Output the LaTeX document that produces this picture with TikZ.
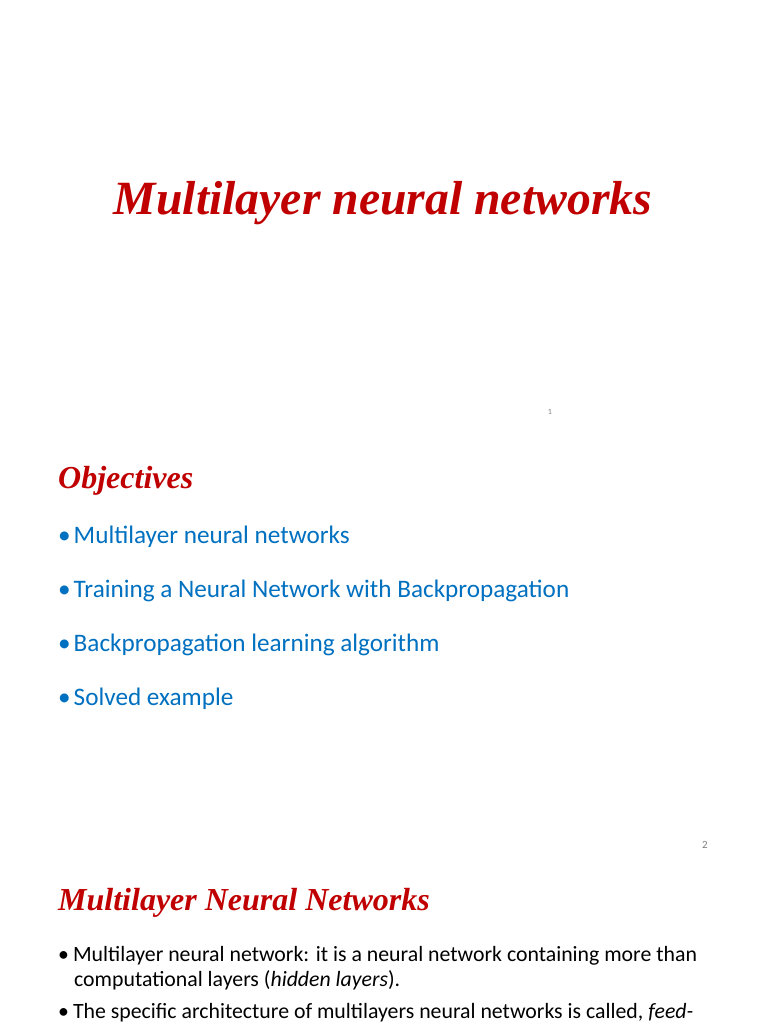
\documentclass[tikz,border=0pt]{standalone}
\usepackage{fontspec}
\setmainfont{Carlito}
\newfontfamily\tms{Liberation Serif}
\definecolor{tred}{RGB}{192,0,0}
\definecolor{tblue}{RGB}{0,112,192}
\begin{document}
\begin{tikzpicture}[x=1pt,y=1pt,
  ttl/.style={anchor=west,text=tred,font=\tms\bfseries\itshape\fontsize{32}{36}\selectfont,inner sep=0},
  bl/.style={anchor=west,text=tblue,font=\fontsize{25.2}{29}\selectfont,inner sep=0},
  bk/.style={anchor=west,text=black,font=\fontsize{21.8}{26}\selectfont,inner sep=0},
  pn/.style={text=gray,font=\fontsize{11}{13}\selectfont,inner sep=0}]
\useasboundingbox[fill=white] (0,0) rectangle (768,-1024);
\node[text=tred,font=\tms\bfseries\itshape\fontsize{47.7}{54}\selectfont,inner sep=0] (t) at (383,-203) {Multilayer neural networks};
\node[pn,font=\fontsize{8}{10}\selectfont] (p1) at (550,-412) {1};
\node[ttl] (o) at (58,-481) {Objectives};
\node[bl] (b1) at (58,-537) {•\hspace{3pt}Multilayer neural networks};
\node[bl] (b2) at (58,-591) {•\hspace{3pt}Training a Neural Network with Backpropagation};
\node[bl] (b3) at (58,-645) {•\hspace{3pt}Backpropagation learning algorithm};
\node[bl] (b4) at (58,-699) {•\hspace{3pt}Solved example};
\node[pn] (p2) at (705,-845) {2};
\node[ttl] (m) at (58,-903) {Multilayer Neural Networks};
\node[bk] (c1) at (58,-956) {•\hspace{4pt}Multilayer neural network: it is a neural network containing more than};
\node[bk] (c2) at (74,-980) {computational layers (\textit{hidden layers}).};
\node[bk] (c3) at (58,-1013) {•\hspace{4pt}The specific architecture of multilayers neural networks is called, \textit{feed-}};
\end{tikzpicture}
\end{document}
